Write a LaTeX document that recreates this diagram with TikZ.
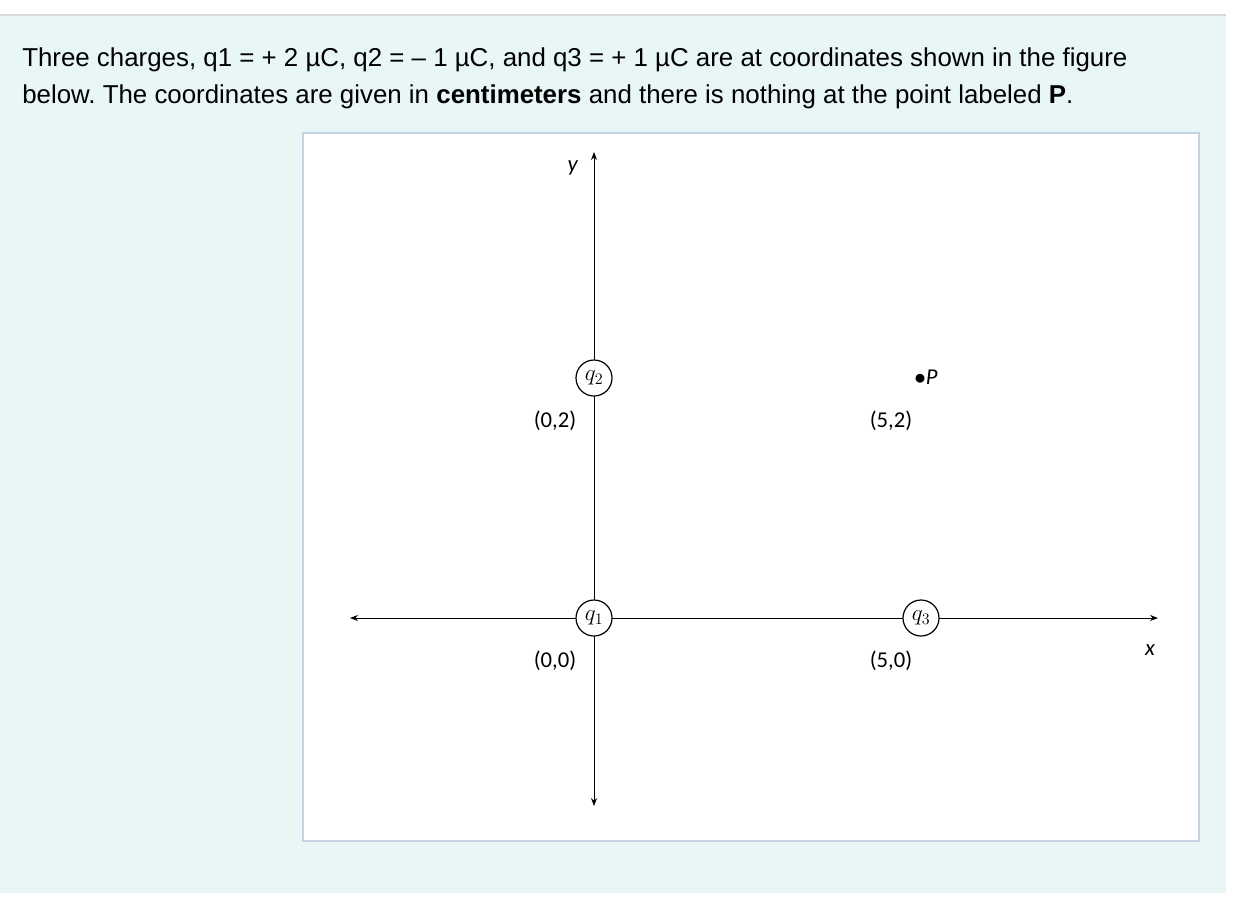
\documentclass[tikz,border=0pt]{standalone}
\usepackage{fontspec}
\setmainfont{Liberation Sans}
\newfontfamily\figfont{Carlito}
\usetikzlibrary{arrows.meta}
\definecolor{panel}{HTML}{E8F6F6}
\definecolor{boxline}{HTML}{C5D3E0}
\frenchspacing
\begin{document}
\begin{tikzpicture}[x=0.75pt,y=-0.75pt,
  lab/.style={font=\figfont\fontsize{17}{19}\selectfont, inner sep=0pt},
  charge/.style={draw, circle, minimum size=27pt, inner sep=0pt, line width=0.9pt, fill=white, font=\fontsize{17}{19}\selectfont},
  axis/.style={line width=0.6pt, {Stealth[length=6pt,width=4.5pt]}-{Stealth[length=6pt,width=4.5pt]}}]
\useasboundingbox (0,0) rectangle (1246,918);
\fill[white] (0,0) rectangle (1246,918);
\fill[panel] (0,15) rectangle (1226,893);
\draw[gray!30, line width=1pt] (0,15) -- (1226,15);
\node[anchor=base west, inner sep=0pt, font=\fontsize{19.4}{22}\selectfont] (t1) at (22,66) {Three charges, q1 = + 2 µC, q2 = – 1 µC, and q3 = + 1 µC are at coordinates shown in the figure};
\node[anchor=base west, inner sep=0pt, font=\fontsize{19.4}{22}\selectfont] (t2) at (22,103) {below. The coordinates are given in \textbf{centimeters} and there is nothing at the point labeled \textbf{P}.};
\draw[boxline, fill=white, line width=1pt] (303,133) rectangle (1199,841);
\coordinate (yt) at (594,152); \coordinate (yb) at (594,806);
\coordinate (xl) at (350,618); \coordinate (xr) at (1158,618);
\draw[axis] (yb) -- (yt);
\draw[axis] (xl) -- (xr);
\node[charge] (q2) at (594,378) {$q_2$};
\node[charge] (q1) at (594,618) {$q_1$};
\node[charge] (q3) at (921,618) {$q_3$};
\node[lab] (P) at (926,377) {$\bullet$\textit{P}};
\node[lab] (y) at (573,168) {\textit{y}};
\node[lab] (x) at (1150,650) {\textit{x}};
\node[lab] (l02) at (555,421) {(0,2)};
\node[lab] (l52) at (891,421) {(5,2)};
\node[lab] (l00) at (555,661) {(0,0)};
\node[lab] (l50) at (891,661) {(5,0)};
\end{tikzpicture}
\end{document}
